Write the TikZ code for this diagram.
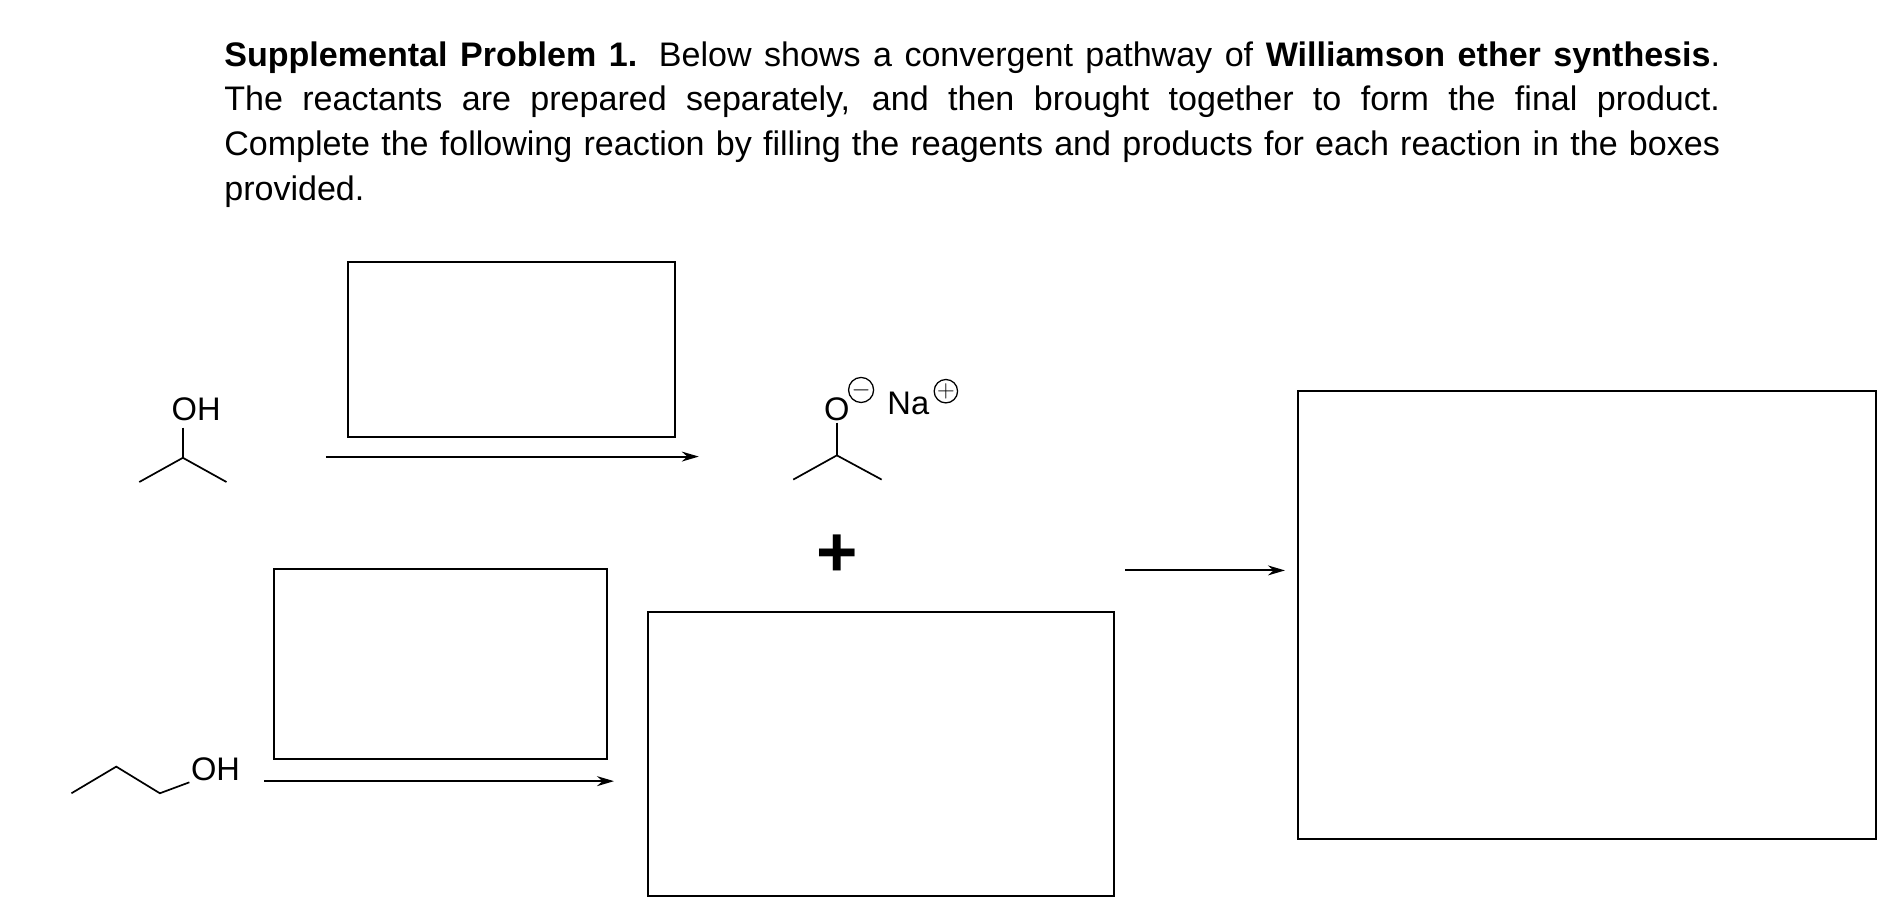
\documentclass[tikz,border=0pt]{standalone}
\usepackage{fontspec}
\setmainfont{Liberation Sans}
\usetikzlibrary{positioning, arrows.meta}

\begin{document}
\begin{tikzpicture}[x=0.3mm, y=-0.3mm,
    answerbox/.style={draw, line width=1.3pt},
    rxnarrow/.style={-{Stealth[length=12pt,width=7pt]}, line width=1.5pt},
    bond/.style={line width=1.2pt},
    atom/.style={inner sep=1pt, font=\fontsize{23pt}{26pt}\selectfont},
    charge/.style={draw, circle, line width=0.9pt, minimum size=5.8mm, inner sep=0pt, font=\fontsize{17pt}{17pt}\selectfont}]
  \useasboundingbox (0,0) rectangle (1568,760);

  % Problem text
  \node (intro) [anchor=north west, text width=370.5mm, align=justify, inner sep=0pt,
        font=\fontsize{24pt}{31.5pt}\selectfont] at (185,34)
    {\textbf{Supplemental Problem 1.} Below shows a convergent pathway of \textbf{Williamson ether synthesis}.\linebreak
     The reactants are prepared separately, and then brought together to form the final product.\linebreak
     Complete the following reaction by filling the reagents and products for each reaction in the boxes\linebreak
     provided.\par};

  % Isopropanol
  \node (oh1) [atom] at (162,338) {OH};
  \coordinate (c1) at (151,378);
  \draw[bond] (151,353) -- (c1);
  \draw[bond] (115,398) -- (c1) -- (187,398);

  % Alkoxide
  \node (o2) [atom] at (691,338) {O};
  \node (minus) [charge] at (711,322) {$-$};
  \node (na) [atom] at (750,333) {Na};
  \node (plus) [charge] at (781,323) {$+$};
  \coordinate (c2) at (691,376);
  \draw[bond] (o2.south) -- (c2);
  \draw[bond] (655,396) -- (c2) -- (728,396);

  \node (sum) [font=\fontsize{50pt}{50pt}\selectfont\bfseries] at (691,459) {+};

  % Propanol
  \node (oh3) [atom] at (178,635) {OH};
  \coordinate (p1) at (59,655);
  \coordinate (p2) at (96,633);
  \coordinate (p3) at (132,655);
  \draw[bond] (p1) -- (p2) -- (p3) -- (oh3.south west);

  % Boxes
  \node (box1) [answerbox, minimum width=81mm, minimum height=43.5mm] at (422,288.5) {};
  \node (box2) [answerbox, minimum width=82.5mm, minimum height=47.1mm] at (363.5,548.5) {};
  \node (box3) [answerbox, minimum width=115.5mm, minimum height=70.5mm] at (727.5,622.5) {};
  \node (box4) [answerbox, minimum width=143.1mm, minimum height=111mm] at (1310.5,508) {};

  % Arrows
  \coordinate (a1s) at (269,377); \coordinate (a1e) at (577,377);
  \coordinate (a2s) at (218,645); \coordinate (a2e) at (507,645);
  \coordinate (a3s) at (929,471); \coordinate (a3e) at (1061,471);
  \draw[rxnarrow] (a1s) -- (a1e);
  \draw[rxnarrow] (a2s) -- (a2e);
  \draw[rxnarrow] (a3s) -- (a3e);
\end{tikzpicture}
\end{document}
